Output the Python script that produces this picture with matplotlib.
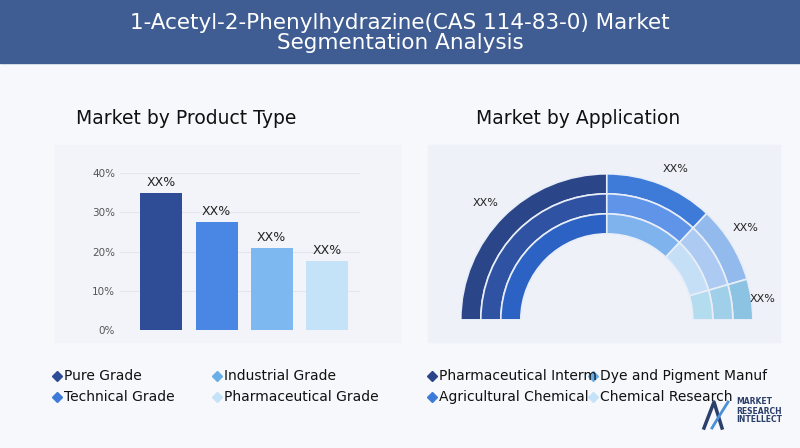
import matplotlib
matplotlib.use("Agg")
import matplotlib.pyplot as plt
from matplotlib.patches import Wedge, Rectangle

title = "1-Acetyl-2-Phenylhydrazine(CAS 114-83-0) Market\nSegmentation Analysis"
bar_cats = ["Pure Grade", "Industrial Grade", "Technical Grade", "Pharmaceutical Grade"]
bar_vals = [35, 27.5, 21, 17.5]
bar_labels = ["XX%", "XX%", "XX%", "XX%"]
yticks = [0, 10, 20, 30, 40]
app_cats = ["Pharmaceutical Interm", "Dye and Pigment Manuf", "Agricultural Chemical", "Chemical Research"]
app_vals = [50, 24, 17, 9]
app_labels = ["XX%", "XX%", "XX%", "XX%"]

bar_colors = ["#2f4c96", "#4a86e4", "#7db8f0", "#c4e3f8"]
bar_legend_colors = ["#2f4c96", "#6aaee8", "#3e7bd9", "#c4e3f8"]
ring_colors = [
    ["#2b4688", "#2f52a2", "#2c62c4"],
    ["#3e7bd9", "#6094e8", "#7fb3ee"],
    ["#92baec", "#adcbf2", "#c5e0f6"],
    ["#8cc3e3", "#a0cfe9", "#b3dcef"],
]
legend_colors = ["#2b4688", "#6aaee8", "#3e7bd9", "#c4e3f8"]

fig = plt.figure(figsize=(8, 4.48), dpi=100)
fig.patch.set_facecolor("#f7f8fb")
bg = fig.add_axes([0, 0, 1, 1]); bg.axis("off"); bg.set_xlim(0, 800); bg.set_ylim(448, 0)
bg.add_patch(Rectangle((0, 0), 800, 63, color="#3f5d92"))
bg.text(400, 33, title, color="white", fontsize=15.5, ha="center", va="center", linespacing=1.05)
bg.add_patch(Rectangle((428, 145), 352, 197, color="#eef1f8"))
bg.add_patch(Rectangle((55, 145), 345, 197, color="#f2f4f9"))
bg.text(186, 118, "Market by Product Type", fontsize=13.5, ha="center", va="center", color="#111")
bg.text(578, 118, "Market by Application", fontsize=13.5, ha="center", va="center", color="#111")

# bar chart
ax = fig.add_axes([0.15, 0.263, 0.30, 0.351])
x = range(len(bar_vals))
ax.bar(x, bar_vals, width=0.76, color=bar_colors)
for i, (v, l) in enumerate(zip(bar_vals, bar_labels)):
    ax.text(i, v + 1, l, ha="center", va="bottom", fontsize=9, color="#222")
ax.set_ylim(0, 40); ax.set_xlim(-0.75, 3.6)
ax.set_yticks(yticks); ax.set_yticklabels([f"{t}%" for t in yticks], fontsize=7.5, color="#555")
ax.set_xticks([])
ax.grid(axis="y", color="#e3e6ee", lw=0.8); ax.set_axisbelow(True)
for s in ax.spines.values(): s.set_visible(False)
ax.tick_params(length=0)
ax.patch.set_alpha(0)

# donut
dx = fig.add_axes([0.576, 0.286, 0.365, 0.326])
dx.set_xlim(-1, 1); dx.set_ylim(0, 1); dx.set_aspect("equal"); dx.axis("off")
radii = [1.0, 0.863, 0.726, 0.589]
start = 180.0
total = sum(app_vals)
label_pos = [(-0.83, 0.80), (0.47, 1.03), (0.95, 0.63), (1.07, 0.14)]
for i, v in enumerate(app_vals):
    span = 180.0 * v / total
    for r in range(3):
        dx.add_patch(Wedge((0, 0), radii[r], start - span, start, width=radii[r] - radii[r + 1],
                           facecolor=ring_colors[i][r], edgecolor="#e8eef8", lw=1.2))
    lx, ly = label_pos[i]
    dx.text(lx, ly, app_labels[i], fontsize=8, ha="center", va="center", color="#222", clip_on=False)
    start -= span

# legends
leg_pos = [(57, 376), (217, 376), (57, 397), (217, 397)]
for (px, py), c, t in zip(leg_pos, bar_legend_colors, bar_cats):
    bg.plot(px, py, marker="D", ms=5, color=c)
    bg.text(px + 7, py, t, fontsize=10, va="center", color="#111")
leg_pos2 = [(432, 376), (593, 376), (432, 397), (593, 397)]
for (px, py), c, t in zip(leg_pos2, legend_colors, app_cats):
    bg.plot(px, py, marker="D", ms=5, color=c)
    bg.text(px + 7, py, t, fontsize=10, va="center", color="#111")

bg.text(736, 411, "MARKET\nRESEARCH\nINTELLECT", fontsize=5.5, fontweight="bold", color="#2b3f6b",
        va="center", ha="left", linespacing=1.0)
bg.plot([704, 714, 722], [428, 402, 428], color="#2b3f6b", lw=2.5)
bg.plot([712, 718, 728], [428, 418, 402], color="#4a90d9", lw=2)

fig.savefig("out.png", dpi=100, facecolor=fig.get_facecolor())
